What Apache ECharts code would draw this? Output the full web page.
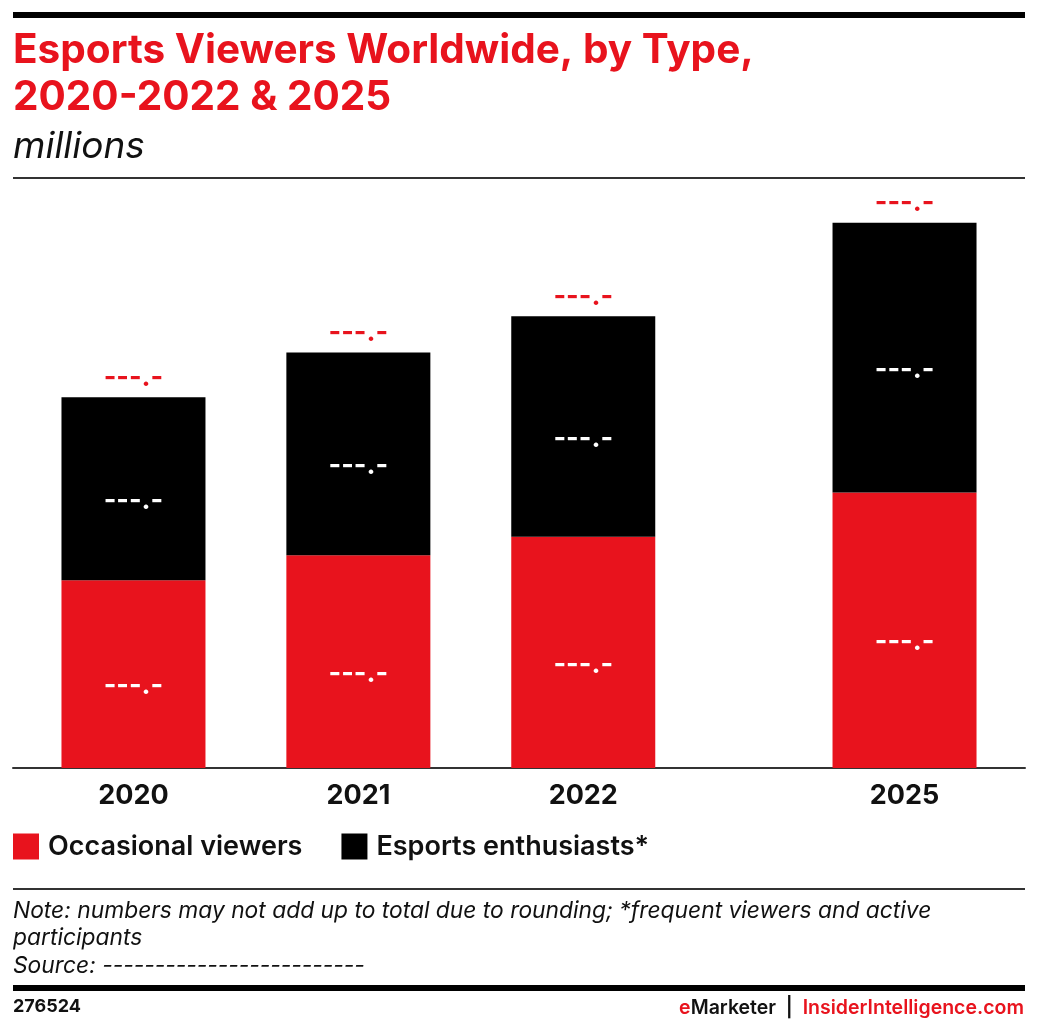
<!DOCTYPE html>
<html><head><meta charset="utf-8">
<script src="https://cdn.jsdelivr.net/npm/echarts@6/dist/echarts.min.js"></script>
<style>html,body{margin:0;padding:0;background:#fff}#chart{width:1038px;height:1033px}</style>
</head><body><div id="chart"></div>
<script>
// ---- data ----
const years = ['2020', '2021', '2022', '2025'];
const occasionalViewers = [220.5, 250.0, 271.5, 323.5];
const esportsEnthusiasts = [215.0, 238.0, 259.0, 317.0];
const seriesNames = ['Occasional viewers', 'Esports enthusiasts*'];
const valueLabel = '---.-';

// ---- layout (fine slot grid so 2025 sits after a wider gap) ----
const slotCount = 63;
const yearSlots = [7, 21, 35, 55];
const RED = '#e8131d';
const FONT = 'Inter';

const cats = Array.from({length: slotCount}, (_, i) => {
  const k = yearSlots.indexOf(i);
  return k >= 0 ? years[k] : 'gap' + i;
});
function spread(arr) {
  const out = new Array(slotCount).fill(null);
  yearSlots.forEach((s, k) => { out[s] = arr[k]; });
  return out;
}
const insideLabel = {
  show: true, position: 'inside', formatter: valueLabel, color: '#fff',
  fontFamily: FONT, fontWeight: 700, fontSize: 27, offset: [0, 12]
};

const chart = echarts.init(document.getElementById('chart'), null, {renderer: 'canvas'});
chart.setOption({
  animation: false,
  backgroundColor: '#fff',
  grid: {left: 13, right: 13, top: 172, bottom: 265, containLabel: false},
  xAxis: {
    type: 'category', data: cats,
    axisLine: {show: true, lineStyle: {color: '#333', width: 2}},
    axisTick: {show: false},
    axisLabel: {
      interval: 0, margin: 14, color: '#111', fontFamily: FONT, fontWeight: 700, fontSize: 27,
      formatter: v => (years.includes(v) ? v : '')
    }
  },
  yAxis: {type: 'value', min: 0, max: 700, show: false, splitLine: {show: false}},
  legend: {
    left: 13, top: 833, padding: 0, itemWidth: 26, itemHeight: 26, itemGap: 39, icon: 'rect',
    data: seriesNames, selectedMode: false,
    textStyle: {fontFamily: FONT, fontWeight: 600, fontSize: 27, color: '#111', padding: [0, 0, 0, 4]}
  },
  series: [
    {name: seriesNames[0], type: 'bar', stack: 'total', barWidth: 144,
     itemStyle: {color: RED}, data: spread(occasionalViewers), label: insideLabel},
    {name: seriesNames[1], type: 'bar', stack: 'total', barWidth: 144,
     itemStyle: {color: '#000'}, data: spread(esportsEnthusiasts), label: insideLabel},
    {name: 'Total', type: 'bar', stack: 'total', barWidth: 144,
     itemStyle: {color: 'transparent'}, data: spread(years.map(() => 0)),
     label: {show: true, position: 'top', distance: 6, formatter: valueLabel, color: RED,
             fontFamily: FONT, fontWeight: 700, fontSize: 27}}
  ],
  graphic: [
    {type: 'rect', shape: {x: 13, y: 12, width: 1012, height: 6}, style: {fill: '#000'}},
    {type: 'text', left: 13, top: 27, style: {
      text: 'Esports Viewers Worldwide, by Type,\n2020-2022 & 2025', fill: RED,
      font: '700 40.5px Inter', lineHeight: 47}},
    {type: 'text', left: 13, top: 128, style: {
      text: 'millions', fill: '#111', font: 'italic 400 37px Inter'}},
    {type: 'rect', shape: {x: 13, y: 177, width: 1012, height: 2}, style: {fill: '#333'}},
    {type: 'rect', shape: {x: 13, y: 888, width: 1012, height: 2}, style: {fill: '#333'}},
    {type: 'text', left: 13, top: 897, style: {
      text: 'Note: numbers may not add up to total due to rounding; *frequent viewers and active\nparticipants\nSource: -------------------------',
      fill: '#111', font: 'italic 400 22.8px Inter', lineHeight: 27.5}},
    {type: 'rect', shape: {x: 13, y: 985, width: 1012, height: 6}, style: {fill: '#000'}},
    {type: 'text', left: 13, top: 998, style: {
      text: '276524', fill: '#111', font: '700 18px Inter'}},
    {type: 'text', right: 14, top: 998, style: {
      text: '{r|e}{b|Marketer  |  }{r|InsiderIntelligence.com}',
      rich: {
        r: {fill: RED, font: '600 19.5px Inter'},
        b: {fill: '#111', font: '600 19.5px Inter'}
      }}}
  ]
});
</script>
</body></html>
